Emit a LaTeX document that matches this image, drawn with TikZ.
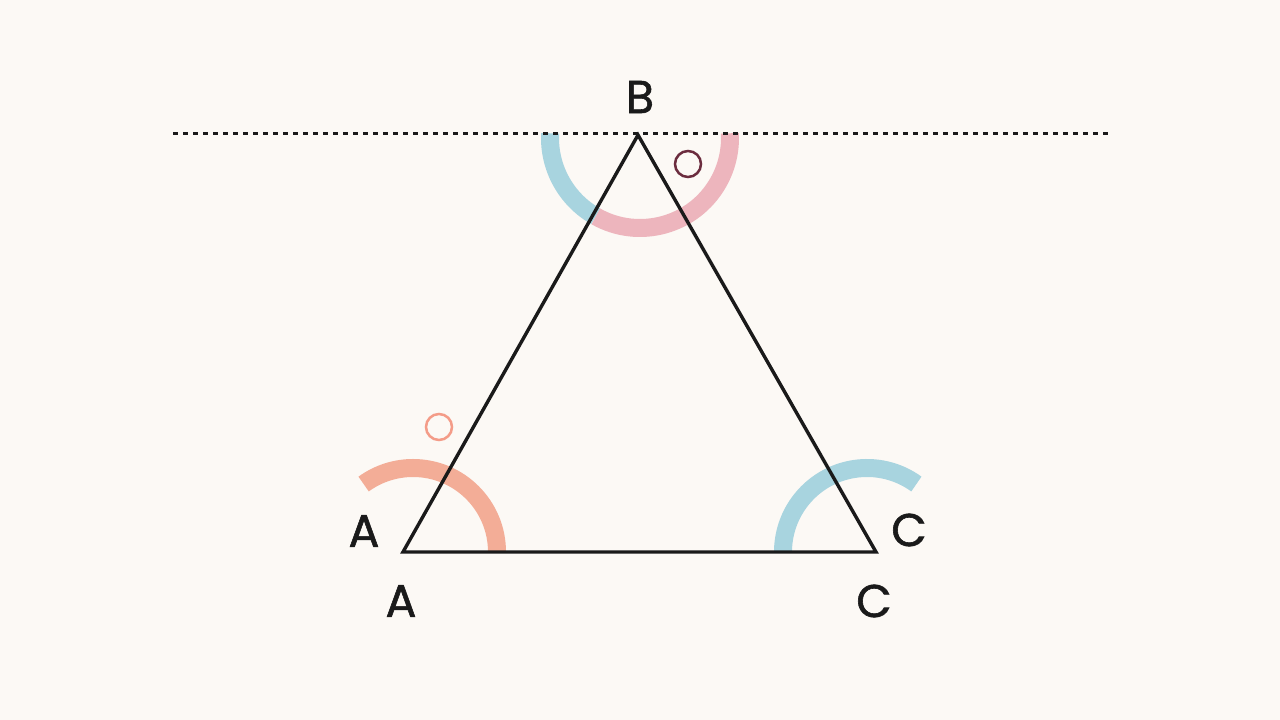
\documentclass[tikz,border=0pt]{standalone}
\usepackage{fontspec}
\setmainfont{Poppins}[FakeBold=1.3]
\definecolor{bg}{HTML}{FCF9F5}
\definecolor{arcblue}{HTML}{A8D4DF}
\definecolor{arcpink}{HTML}{EDB5BD}
\definecolor{arcsalmon}{HTML}{F3AD97}
\definecolor{maroon}{HTML}{6B2C3E}
\definecolor{ink}{HTML}{1A1A1A}
\tikzset{
  band/.style={line width=18pt},
  side/.style={draw=ink, line width=3.4pt, line join=miter},
  lbl/.style={text=ink, font=\fontsize{46}{46}\selectfont, inner sep=0pt},
  smallc/.style={circle, minimum size=26pt, inner sep=0pt, line width=2.5pt}
}
\begin{document}
\begin{tikzpicture}[x=1pt,y=1pt]
\fill[bg] (0,0) rectangle (1280,720);
\useasboundingbox (0,0) rectangle (1280,720);
% arcs
\begin{scope}
\clip (0,0) rectangle (1280,586);
\draw[band, arcblue] (640,582) ++(177:90) arc[start angle=177, end angle=240.6, radius=90];
\draw[band, arcpink] (640,582) ++(240.6:90) arc[start angle=240.6, end angle=363, radius=90];
\end{scope}
\draw[band, arcsalmon] (413,168) ++(0:84) arc[start angle=0, end angle=126, radius=84];
\draw[band, arcblue] (867,168) ++(54:84) arc[start angle=54, end angle=180, radius=84];
% dashed line
\coordinate (L) at (173,586);
\coordinate (R) at (1108,586);
\draw[ink, line width=3pt, dash pattern=on 5pt off 5pt] (L) -- (R);
% triangle
\coordinate (A) at (403,168);
\coordinate (B) at (638,585);
\coordinate (C) at (876,168);
\draw[side] (A) -- (B) -- (C) -- cycle;
% small circles
\node[smallc, draw=maroon] (cb) at (688,556) {};
\node[smallc, draw=arcsalmon!90!red] (ca) at (439,293) {};
% labels
\node[lbl] (lB) at (640,623) {B};
\node[lbl] (lA1) at (364,189) {A};
\node[lbl] (lA2) at (401,119) {A};
\node[lbl] (lC1) at (909,190) {C};
\node[lbl] (lC2) at (874,119) {C};
\end{tikzpicture}
\end{document}
